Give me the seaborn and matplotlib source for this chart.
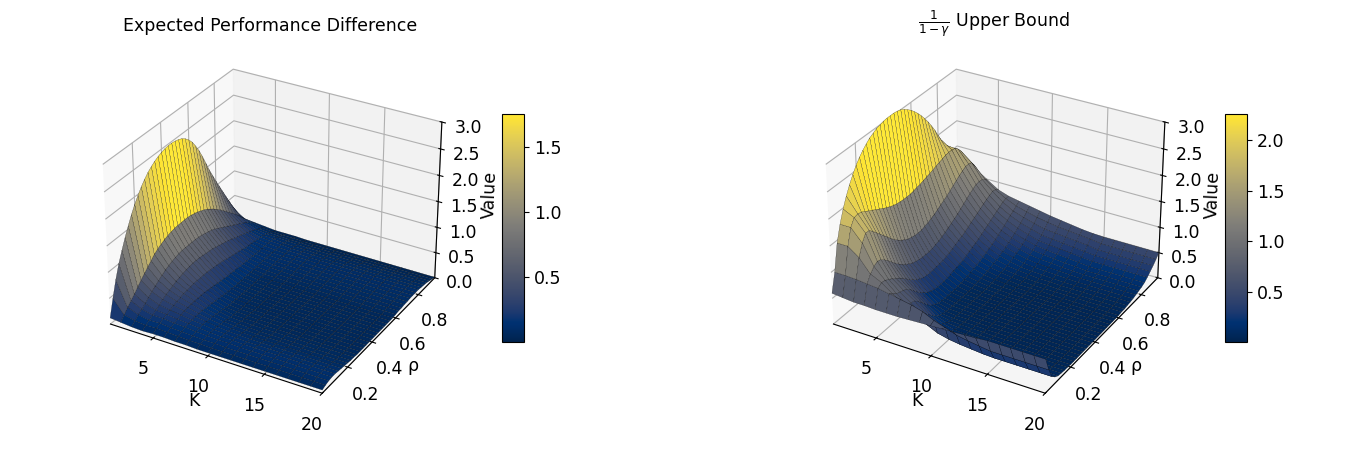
import numpy as np
import matplotlib
matplotlib.use("Agg")
import matplotlib.pyplot as plt
import seaborn as sns

k_values = [1, 2, 3, 4, 5, 6, 7, 8, 9, 10, 11, 12, 13, 14, 15, 16, 17, 18, 19, 20]
rho_values = [0.0, 0.025, 0.05, 0.075, 0.1, 0.125, 0.15, 0.175, 0.2, 0.225,
              0.25, 0.275, 0.3, 0.325, 0.35, 0.375, 0.4, 0.425, 0.45, 0.475,
              0.5, 0.525, 0.55, 0.575, 0.6, 0.625, 0.65, 0.675, 0.7, 0.725,
              0.75, 0.775, 0.8, 0.825, 0.85, 0.875, 0.9, 0.925, 0.95]

# flat part of the left surface, K 12 to 20 read the same
perf_far = [.06, .09, .11, .12, .12, .11, .10, .09, .08, .07, .07, .06, .06, .06, .06, .06, .06, .06, .06, .06,
            .06, .06, .06, .06, .07, .08, .08, .09, .09, .10, .10, .10, .10, .09, .08, .07, .05, .03, .01]

# one row per K, one column per rho
perf_diff = [
    [.12, .45, .75, 1.00, 1.20, 1.39, 1.56, 1.72, 1.86, 1.98, 2.09, 2.18, 2.26, 2.32, 2.37, 2.41, 2.44, 2.46, 2.47, 2.47,
     2.46, 2.44, 2.41, 2.36, 2.29, 2.20, 2.08, 1.94, 1.78, 1.60, 1.42, 1.26, 1.10, .95, .80, .65, .50, .35, .20],
    [.10, .19, .28, .35, .42, .50, .58, .65, .72, .79, .86, .91, .95, .98, 1.01, 1.03, 1.04, 1.05, 1.05, 1.05,
     1.05, 1.04, 1.02, 1.00, .97, .94, .90, .85, .80, .74, .68, .61, .54, .47, .40, .33, .25, .16, .08],
    [.08, .14, .20, .25, .30, .36, .42, .47, .52, .57, .62, .65, .68, .70, .72, .73, .73, .73, .73, .73,
     .72, .71, .69, .67, .65, .62, .58, .54, .50, .46, .42, .38, .34, .30, .26, .22, .17, .12, .06],
    [.07, .12, .16, .20, .24, .28, .33, .37, .40, .43, .46, .48, .50, .52, .53, .54, .54, .54, .53, .52,
     .51, .50, .48, .46, .44, .42, .39, .37, .34, .31, .29, .26, .23, .20, .17, .14, .10, .07, .04],
    [.08, .13, .17, .20, .22, .25, .28, .30, .32, .34, .35, .36, .37, .37, .37, .37, .37, .36, .35, .34,
     .33, .32, .30, .28, .27, .25, .24, .22, .20, .19, .18, .17, .16, .15, .13, .11, .08, .05, .02],
    [.08, .12, .15, .18, .20, .22, .24, .25, .26, .26, .26, .26, .26, .25, .24, .23, .22, .21, .20, .19,
     .19, .18, .18, .17, .16, .16, .15, .15, .14, .14, .14, .14, .14, .13, .12, .10, .07, .04, .02],
    [.07, .11, .14, .17, .18, .19, .20, .20, .20, .19, .18, .17, .16, .15, .14, .13, .12, .12, .11, .11,
     .11, .11, .11, .11, .11, .11, .12, .12, .12, .12, .12, .12, .12, .12, .10, .09, .06, .04, .02],
    [.07, .10, .13, .15, .16, .17, .17, .16, .15, .14, .13, .12, .10, .09, .09, .09, .08, .08, .08, .08,
     .08, .08, .08, .08, .08, .09, .10, .10, .11, .11, .11, .11, .11, .10, .09, .08, .06, .03, .01],
    [.06, .10, .12, .14, .14, .14, .14, .13, .12, .10, .09, .08, .08, .07, .07, .07, .07, .07, .07, .07,
     .07, .07, .07, .07, .08, .08, .09, .10, .10, .11, .11, .11, .11, .10, .09, .07, .05, .03, .01],
    [.06, .09, .12, .13, .13, .13, .12, .11, .10, .09, .08, .07, .07, .07, .06, .06, .06, .06, .06, .06,
     .06, .06, .06, .07, .07, .08, .08, .09, .10, .10, .11, .11, .10, .10, .08, .07, .05, .03, .01],
    [.06, .09, .11, .13, .13, .12, .11, .10, .09, .08, .07, .07, .06, .06, .06, .06, .06, .06, .06, .06,
     .06, .06, .06, .06, .07, .08, .08, .09, .09, .10, .10, .10, .10, .09, .08, .07, .05, .03, .01],
] + [perf_far] * 9

# right surface, K 15 to 20 read the same
bound_far = [.64, .38, .19, .12, .08, .07, .06, .06, .05, .05, .05, .05, .05, .05, .05, .05, .05, .05, .05, .05,
             .05, .05, .05, .05, .05, .06, .06, .07, .08, .09, .11, .13, .15, .18, .23, .29, .35, .42, .50]

upper_bound = [
    [.60, .95, 1.45, 1.75, 1.98, 2.17, 2.33, 2.47, 2.59, 2.69, 2.77, 2.84, 2.90, 2.94, 2.98, 3.00, 3.02, 3.03, 3.03, 3.03,
     3.02, 3.00, 2.96, 2.91, 2.85, 2.78, 2.70, 2.61, 2.51, 2.40, 2.28, 2.15, 2.00, 1.86, 1.72, 1.60, 1.50, 1.40, 1.32],
    [.58, .95, 1.45, 1.75, 1.88, 1.90, 1.88, 1.84, 1.80, 1.76, 1.72, 1.68, 1.64, 1.60, 1.57, 1.54, 1.52, 1.51, 1.50, 1.50,
     1.50, 1.51, 1.53, 1.54, 1.56, 1.58, 1.60, 1.62, 1.65, 1.67, 1.69, 1.71, 1.72, 1.72, 1.70, 1.64, 1.55, 1.41, 1.25],
    [.56, .94, 1.30, 1.52, 1.65, 1.65, 1.58, 1.50, 1.42, 1.34, 1.26, 1.18, 1.10, 1.04, .98, .94, .90, .88, .86, .86,
     .86, .88, .90, .93, .96, 1.00, 1.04, 1.08, 1.12, 1.17, 1.22, 1.27, 1.32, 1.36, 1.40, 1.40, 1.38, 1.27, 1.12],
    [.56, .92, 1.05, 1.14, 1.18, 1.16, 1.10, 1.03, .95, .87, .80, .74, .68, .64, .60, .58, .56, .55, .55, .55,
     .56, .58, .60, .63, .66, .70, .74, .78, .82, .87, .92, .97, 1.02, 1.06, 1.10, 1.11, 1.10, 1.05, .98],
    [.55, .90, .95, .94, .90, .86, .81, .76, .70, .63, .56, .50, .45, .41, .38, .37, .36, .36, .37, .37,
     .38, .40, .42, .45, .48, .51, .54, .58, .62, .66, .70, .74, .78, .82, .86, .89, .92, .90, .85],
    [.55, .86, .80, .75, .72, .70, .66, .60, .52, .44, .37, .31, .26, .23, .21, .20, .20, .20, .21, .22,
     .24, .25, .27, .29, .32, .35, .38, .41, .44, .48, .52, .56, .60, .64, .68, .72, .76, .78, .78],
    [.55, .82, .66, .58, .58, .56, .50, .42, .33, .25, .19, .15, .12, .11, .10, .10, .10, .10, .11, .12,
     .13, .14, .16, .18, .20, .22, .25, .28, .31, .34, .38, .42, .46, .50, .55, .60, .64, .69, .74],
    [.56, .78, .52, .44, .42, .38, .30, .23, .17, .12, .09, .08, .07, .07, .07, .07, .07, .07, .07, .08,
     .09, .10, .11, .12, .14, .16, .18, .20, .23, .26, .29, .33, .37, .41, .46, .51, .57, .63, .70],
    [.57, .72, .42, .32, .28, .24, .18, .14, .10, .08, .07, .06, .06, .06, .06, .06, .06, .06, .06, .06,
     .07, .07, .08, .09, .10, .12, .13, .15, .17, .20, .23, .26, .30, .34, .39, .45, .51, .58, .66],
    [.58, .62, .32, .24, .20, .16, .12, .09, .08, .07, .06, .06, .06, .05, .05, .05, .05, .05, .05, .06,
     .06, .06, .06, .07, .08, .09, .10, .12, .13, .15, .18, .21, .25, .29, .33, .39, .46, .54, .62],
    [.59, .55, .27, .20, .15, .12, .09, .07, .07, .06, .06, .05, .05, .05, .05, .05, .05, .05, .05, .05,
     .05, .05, .06, .06, .06, .07, .08, .10, .11, .13, .15, .18, .22, .26, .31, .37, .44, .51, .59],
    [.60, .48, .24, .17, .12, .09, .08, .07, .06, .06, .05, .05, .05, .05, .05, .05, .05, .05, .05, .05,
     .05, .05, .05, .05, .06, .06, .07, .08, .10, .12, .14, .17, .20, .24, .29, .35, .42, .49, .56],
    [.61, .44, .22, .15, .10, .08, .07, .06, .06, .05, .05, .05, .05, .05, .05, .05, .05, .05, .05, .05,
     .05, .05, .05, .05, .06, .06, .07, .08, .09, .11, .13, .15, .18, .22, .27, .33, .40, .47, .53],
    [.62, .41, .20, .13, .09, .07, .06, .06, .05, .05, .05, .05, .05, .05, .05, .05, .05, .05, .05, .05,
     .05, .05, .05, .05, .05, .06, .06, .07, .08, .10, .12, .14, .17, .20, .25, .31, .38, .45, .51],
] + [bound_far] * 6

z_ticks = [0.0, 0.5, 1.0, 1.5, 2.0, 2.5, 3.0]
k_ticks = [5, 10, 15, 20]
rho_ticks = [0.2, 0.4, 0.6, 0.8]

W, H = 1364, 465
FS = 12.5
plt.rcParams.update({"font.size": FS, "font.family": "DejaVu Sans"})
cmap = sns.color_palette("cividis", as_cmap=True)
K, R = np.meshgrid(k_values, rho_values, indexing="ij")

fig = plt.figure(figsize=(W / 100, H / 100), dpi=100)


def draw_panel(values, title, box, cbar_box, title_xy, cbar_ticks, vmax):
    ax = fig.add_axes([box[0] / W, box[1] / H, box[2] / W, box[3] / H], projection="3d")
    surf = ax.plot_surface(K, R, np.array(values), cmap=cmap, edgecolor="k", linewidth=0.15,
                           rcount=50, ccount=50, vmin=0, vmax=vmax)
    ax.set_xlim(k_values[0], k_values[-1])
    ax.set_ylim(rho_values[0], rho_values[-1])
    ax.set_zlim(0, 3)
    ax.set_xticks(k_ticks)
    ax.set_yticks(rho_ticks)
    ax.set_zticks(z_ticks)
    ax.tick_params(labelsize=FS)
    ax.set_xlabel("K", fontsize=FS, labelpad=1)
    ax.set_ylabel("ρ", fontsize=FS, labelpad=0)
    ax.set_zlabel("Value", fontsize=FS, labelpad=2)
    fig.text(title_xy[0] / W, 1 - title_xy[1] / H, title, fontsize=FS, ha="center", va="center")
    cax = fig.add_axes([cbar_box[0] / W, cbar_box[1] / H, cbar_box[2] / W, cbar_box[3] / H])
    cb = fig.colorbar(surf, cax=cax)
    cb.set_ticks(cbar_ticks)
    cb.ax.tick_params(labelsize=FS)
    return ax


draw_panel(perf_diff, "Expected Performance Difference", (82, 48, 377, 377), (502, 123, 22, 228),
           (270, 26), [0.5, 1.0, 1.5], 1.754)
draw_panel(upper_bound, r"$\frac{1}{1-\gamma}$ Upper Bound", (805, 48, 377, 377), (1225, 123, 22, 228),
           (994, 24), [0.5, 1.0, 1.5, 2.0], 2.26)

fig.savefig("out.png", dpi=100)
